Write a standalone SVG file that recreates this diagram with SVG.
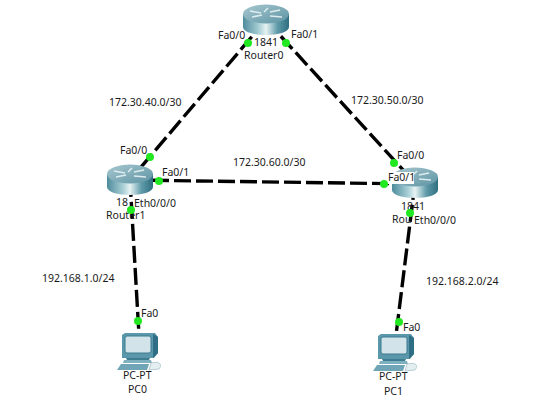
<svg xmlns="http://www.w3.org/2000/svg" width="542" height="413" viewBox="0 0 542 413">
<style>
text{font-family:"Noto Sans","Liberation Sans",sans-serif;font-size:10.5px;fill:#1a1a1a}
.link{stroke:#000;stroke-width:3.4;fill:none;stroke-dasharray:17 5}
.dot{fill:#22e822}
.bg{fill:#fff}
</style>
<defs>
<linearGradient id="side" x1="0" x2="1" y1="0" y2="0">
<stop offset="0" stop-color="#4d8b9b"/><stop offset=".35" stop-color="#a9cfd6"/><stop offset=".5" stop-color="#e8f3f4"/><stop offset=".75" stop-color="#5f9aa8"/><stop offset="1" stop-color="#2f6f80"/>
</linearGradient>
<linearGradient id="top" x1="0" x2="1" y1="0" y2="1">
<stop offset="0" stop-color="#a8c8d0"/><stop offset="1" stop-color="#5d93a3"/>
</linearGradient>
<g id="router">
<path d="M-23-6V7C-23 12-12 15 0 15S23 12 23 7V-6Z" fill="url(#side)"/>
<ellipse cx="0" cy="-6" rx="23" ry="9.5" fill="url(#top)"/>
<g stroke="#dcebee" stroke-width="1.6" fill="none">
<path d="M-16-9L-5-7M-14-3L-4-5M4-8L14-10M4-4L16-3M-2-8L2-12"/>
</g>
</g>
<g id="pc">
<path d="M-16 2L-13 0H17L20 4V20L16 25H-16Z" fill="#5b97aa"/>
<path d="M15 1L20 4V20L15 25Z" fill="#2f6f85"/>
<rect x="-13" y="3" width="26" height="17" rx="2" fill="#d2e3ea" stroke="#3d7b90"/>
<path d="M-12 25H12L11 27H-11Z" fill="#3d7b90"/>
<path d="M-14 27H13L14 30H-15Z" fill="#7fb0bf"/>
<path d="M-17 31H11L9 37H-21Z" fill="#6fa5b6"/>
<path d="M13 30C21 28 25 31 21 36L11 37Z" fill="#e4eef0" stroke="#9dbcc5" stroke-width=".7"/>
</g>
</defs>
<rect width="542" height="413" fill="#fff"/>
<g id="connectors">
<path class="link" d="M266 20L130 180"/>
<path class="link" d="M266 20L415 183"/>
<path class="link" d="M130 180L415 184"/>
<path class="link" d="M130 180L139 335"/>
<path class="link" d="M415 183L396 335"/>
</g>
<g id="Router0"><use href="#router" x="266" y="20"/>
<text x="218" y="39">Fa0/0</text><text x="291" y="38">Fa0/1</text>
<text x="254" y="46">1841</text><text x="244" y="59">Router0</text></g>
<g id="Router1"><use href="#router" x="130" y="180"/>
<text x="116" y="206">18</text><text x="106" y="219">Router1</text>
<rect class="bg" x="134" y="197" width="43" height="12"/>
<text x="134" y="207">Eth0/0/0</text>
<text x="120" y="154">Fa0/0</text><text x="162" y="176">Fa0/1</text></g>
<g id="Router2"><use href="#router" x="415" y="183"/>
<text x="401" y="210">1841</text><text x="392" y="223">Rou</text>
<rect class="bg" x="414" y="214" width="43" height="12"/>
<text x="414" y="224">Eth0/0/0</text>
<text x="397" y="159">Fa0/0</text>
<rect class="bg" x="387" y="172" width="27" height="12"/>
<text x="388" y="181">Fa0/1</text></g>
<g id="PC0"><use href="#pc" x="138" y="333"/>
<text x="123" y="379">PC-PT</text><text x="128" y="393">PC0</text>
<text x="141" y="317">Fa0</text></g>
<g id="PC1"><use href="#pc" x="394" y="334"/>
<text x="379" y="380">PC-PT</text><text x="384" y="395">PC1</text>
<text x="403" y="331">Fa0</text></g>
<g id="dots">
<circle class="dot" cx="248" cy="43" r="4"/><circle class="dot" cx="286" cy="43" r="4"/>
<circle class="dot" cx="150" cy="157" r="4"/><circle class="dot" cx="159" cy="181" r="4"/>
<circle class="dot" cx="131" cy="210" r="4"/><circle class="dot" cx="394" cy="163" r="4"/>
<circle class="dot" cx="384" cy="184" r="4"/><circle class="dot" cx="410" cy="213" r="4"/>
<circle class="dot" cx="138" cy="321" r="4"/><circle class="dot" cx="399" cy="322" r="4"/>
</g>
<g id="labels">
<text x="109" y="106">172.30.40.0/30</text>
<text x="351" y="104">172.30.50.0/30</text>
<text x="233" y="166">172.30.60.0/30</text>
<text x="42" y="282">192.168.1.0/24</text>
<text x="426" y="285">192.168.2.0/24</text>
</g>
</svg>
